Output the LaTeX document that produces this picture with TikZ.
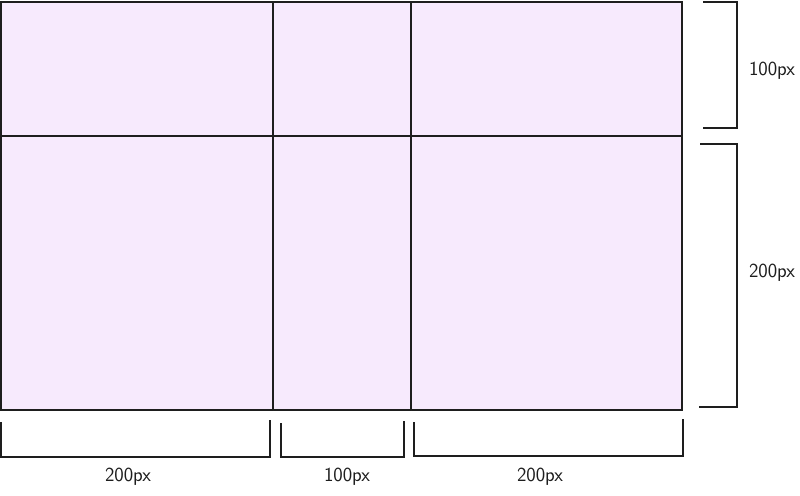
\documentclass[tikz,border=0pt]{standalone}
\usepackage{tikz}
\usepackage{color}

\definecolor{cellfill}{HTML}{F7EAFD}
\definecolor{ink}{HTML}{1E1E1E}

\begin{document}
\begin{tikzpicture}[x=1pt,y=-1pt,
    cell/.style={draw=ink,line width=1.3pt,fill=cellfill},
    brace/.style={draw=ink,line width=1.4pt},
    size/.style={font=\fontsize{20}{22}\selectfont\sffamily,text=ink,inner sep=0pt}]
 \useasboundingbox (0,0) rectangle (800,495);

    % Draw the grid
    \fill[cellfill] (1,2) rectangle (682,410);
    \draw[cell,fill=none] (1,2) rectangle (682,410);
    \draw[cell] (273,2) coordinate (c_1) -- (273,410) coordinate (c_2);
    \draw[cell] (411,2) coordinate (c_3) -- (411,410) coordinate (c_4);
    \draw[cell] (1,136) coordinate (r_1) -- (682,136) coordinate (r_2);

    % Draw the brackets on the right
    \draw[brace] (703,2) -- (737,2) -- (737,128) -- (703,128);
    \draw[brace] (700,144) -- (737,144) -- (737,407) -- (699,407);

    % Draw the brackets below
    \draw[brace] (1,422) -- (1,457) -- (270,457) -- (270,420);
    \draw[brace] (281,423) -- (281,457) -- (404,457) -- (404,421);
    \draw[brace] (414,422) -- (414,456) -- (683,456) -- (683,419);

    \node[size] (h_1) at (772,71) {100px};
    \node[size] (h_2) at (772,273) {200px};
    \node[size] (w_1) at (128,477) {200px};
    \node[size] (w_2) at (347,477) {100px};
    \node[size] (w_3) at (540,477) {200px};

\end{tikzpicture}
\end{document}
